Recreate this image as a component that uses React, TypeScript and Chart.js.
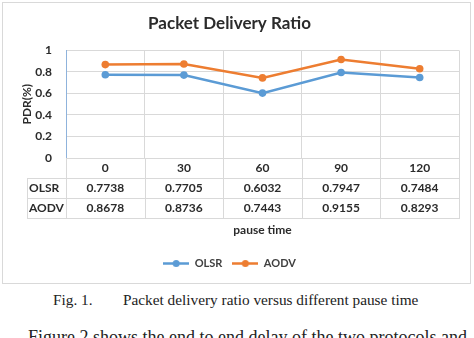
import React, { useEffect, useRef } from 'react';
import { Chart, registerables } from 'chart.js';

Chart.register(...registerables);

const categories = ['0', '30', '60', '90', '120'];
const olsrValues = [0.7738, 0.7705, 0.6032, 0.7947, 0.7484];
const aodvValues = [0.8678, 0.8736, 0.7443, 0.9155, 0.8293];
const seriesNames = ['OLSR', 'AODV'];
const seriesColors = ['#5b9bd5', '#ed7d31'];
const yMin = 0;
const yMax = 1;
const yStep = 0.2;
const chartTitle = 'Packet Delivery Ratio';
const yTitle = 'PDR(%)';
const xTitle = 'pause time';
const captionLabel = 'Fig. 1.';
const captionText = 'Packet delivery ratio versus different pause time';
const bodyText = 'Figure 2 shows the end to end delay of the two protocols and';

const FONT = 'Lato, "Open Sans", sans-serif';
const TEXT = '#2b2b2b';
const GRID = '#d9d9d9';

function legendSwatch(color: string) {
  const c = document.createElement('canvas');
  c.width = 26;
  c.height = 9;
  const g = c.getContext('2d')!;
  g.strokeStyle = color;
  g.lineWidth = 2.5;
  g.beginPath();
  g.moveTo(0, 4.5);
  g.lineTo(26, 4.5);
  g.stroke();
  g.fillStyle = color;
  g.beginPath();
  g.arc(13, 4.5, 3.5, 0, Math.PI * 2);
  g.fill();
  return c;
}

const framePlugin = {
  id: 'frame',
  beforeDraw(chart: any) {
    const { ctx, width, height } = chart;
    ctx.save();
    ctx.fillStyle = '#ffffff';
    ctx.fillRect(0, 0, width, height);
    ctx.strokeStyle = GRID;
    ctx.lineWidth = 1;
    ctx.strokeRect(2.5, 2.5, 468, 281);
    ctx.restore();
  },
};

const tablePlugin = {
  id: 'dataTable',
  afterDraw(chart: any) {
    const { ctx, chartArea } = chart;
    const x = chart.scales.x;
    const rowH = 20;
    const top = chartArea.bottom;
    const rows = [
      { name: seriesNames[0], values: olsrValues },
      { name: seriesNames[1], values: aodvValues },
    ];
    const headerBottom = top + rowH;
    const tableBottom = headerBottom + rowH * rows.length;
    const half = (x.getPixelForValue(1) - x.getPixelForValue(0)) / 2;
    const labelLeft = 27;
    const right = x.getPixelForValue(categories.length - 1) + half;
    const line = (x1: number, y1: number, x2: number, y2: number) => {
      ctx.beginPath();
      ctx.moveTo(x1, y1);
      ctx.lineTo(x2, y2);
      ctx.stroke();
    };
    ctx.save();
    ctx.strokeStyle = GRID;
    ctx.lineWidth = 1;
    for (let i = 0; i <= categories.length; i++) {
      const px = i < categories.length ? x.getPixelForValue(i) - half : right;
      const xx = Math.round(px) + 0.5;
      line(xx, top, xx, tableBottom);
    }
    line(labelLeft + 0.5, headerBottom, labelLeft + 0.5, tableBottom);
    for (let r = 0; r <= rows.length; r++) {
      const yy = Math.round(headerBottom + r * rowH) + 0.5;
      line(labelLeft, yy, Math.round(right) + 1, yy);
    }
    ctx.fillStyle = TEXT;
    ctx.font = `bold 12px ${FONT}`;
    ctx.textBaseline = 'middle';
    rows.forEach((row, r) => {
      const cy = headerBottom + r * rowH + rowH / 2;
      ctx.textAlign = 'left';
      ctx.fillText(row.name, labelLeft + 2, cy);
      ctx.textAlign = 'center';
      row.values.forEach((v, i) => {
        ctx.fillText(v.toFixed(4), x.getPixelForValue(i), cy);
      });
    });
    ctx.restore();
  },
};

export default function App() {
  const ref = useRef<HTMLCanvasElement>(null);

  useEffect(() => {
    const chart = new Chart(ref.current!, {
      type: 'line',
      data: {
        labels: categories,
        datasets: [
          {
            label: seriesNames[0],
            data: olsrValues,
            borderColor: seriesColors[0],
            backgroundColor: seriesColors[0],
            pointBackgroundColor: seriesColors[0],
            borderWidth: 2.5,
            pointRadius: 3.8,
            pointBorderWidth: 0,
          },
          {
            label: seriesNames[1],
            data: aodvValues,
            borderColor: seriesColors[1],
            backgroundColor: seriesColors[1],
            pointBackgroundColor: seriesColors[1],
            borderWidth: 2.5,
            pointRadius: 3.8,
            pointBorderWidth: 0,
          },
        ],
      },
      options: {
        responsive: false,
        animation: false,
        layout: { padding: { left: 0, right: 15, top: 0, bottom: 7 } },
        plugins: {
          title: {
            display: true,
            text: chartTitle,
            color: TEXT,
            font: { family: FONT, size: 17, weight: 'bold' },
            padding: { top: 13, bottom: 17 },
          },
          legend: {
            position: 'bottom',
            labels: {
              usePointStyle: true,
              pointStyleWidth: 26,
              padding: 10,
              color: '#404040',
              font: { family: FONT, size: 11, weight: 'bold' },
              generateLabels: (chart: any) => {
                const items = Chart.defaults.plugins.legend.labels.generateLabels(chart);
                return items.map((it: any, i: number) => ({
                  ...it,
                  pointStyle: legendSwatch(seriesColors[i]),
                }));
              },
            },
          },
          tooltip: { enabled: false },
        },
        scales: {
          x: {
            type: 'category',
            offset: true,
            grid: { offset: true, color: GRID, drawTicks: false },
            border: { display: false },
            ticks: {
              color: TEXT,
              padding: 3,
              font: { family: FONT, size: 12, weight: 'bold' },
            },
            title: {
              display: true,
              text: xTitle,
              color: TEXT,
              font: { family: FONT, size: 12, weight: 'bold' },
              padding: { top: 0, bottom: 10.8 },
            },
            afterFit: (scale: any) => {
              scale.height = 90;
            },
          },
          y: {
            min: yMin,
            max: yMax,
            ticks: {
              stepSize: yStep,
              color: TEXT,
              padding: 14,
              font: { family: FONT, size: 12, weight: 'bold' },
              callback: (v: any) => String(Math.round(Number(v) * 10) / 10),
            },
            grid: { color: GRID, drawTicks: false },
            border: { display: true, color: '#8fb3dc', width: 1 },
            title: {
              display: true,
              text: yTitle,
              color: TEXT,
              font: { family: FONT, size: 12, weight: 'bold' },
              padding: { top: 20, bottom: 0 },
            },
            afterFit: (scale: any) => {
              scale.width = 66;
            },
          },
        },
      } as any,
      plugins: [framePlugin, tablePlugin],
    });
    return () => chart.destroy();
  }, []);

  const serif = '"Liberation Serif", "Times New Roman", serif';

  return (
    <div
      style={{
        position: 'absolute',
        left: 0,
        top: 0,
        width: 474,
        height: 338,
        overflow: 'hidden',
        background: '#ffffff',
      }}
    >
      <canvas ref={ref} width={474} height={286} style={{ display: 'block', width: 474, height: 286 }} />
      <div
        style={{
          position: 'absolute',
          left: 53,
          top: 291,
          fontFamily: serif,
          fontSize: 15.3,
          lineHeight: '18px',
          color: '#222',
          whiteSpace: 'nowrap',
        }}
      >
        {captionLabel}
      </div>
      <div
        style={{
          position: 'absolute',
          left: 123,
          top: 291,
          fontFamily: serif,
          fontSize: 15.3,
          lineHeight: '18px',
          color: '#222',
          whiteSpace: 'nowrap',
        }}
      >
        {captionText}
      </div>
      <div
        style={{
          position: 'absolute',
          left: 28,
          top: 328,
          fontFamily: serif,
          fontSize: 18,
          lineHeight: '18px',
          color: '#222',
          whiteSpace: 'nowrap',
        }}
      >
        {bodyText}
      </div>
    </div>
  );
}
